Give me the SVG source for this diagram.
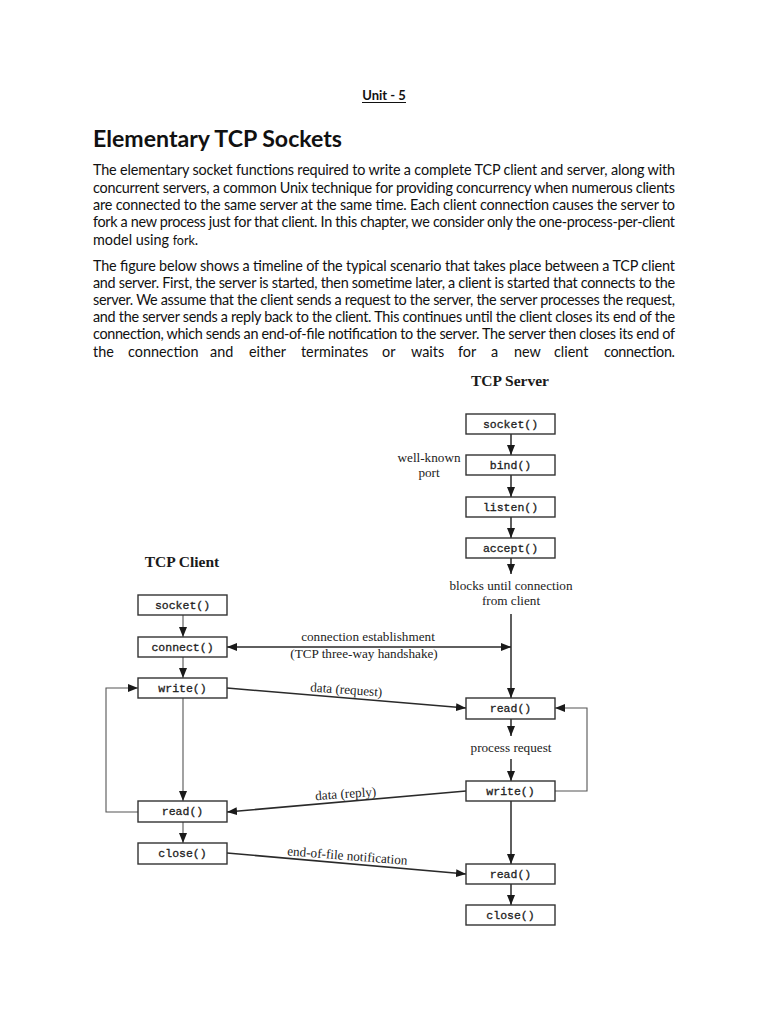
<svg xmlns="http://www.w3.org/2000/svg" width="768" height="1024" viewBox="0 0 768 1024">
<defs>
<style>
.body{font-family:Lato,"Liberation Sans",sans-serif;font-size:14.4px;fill:#111}
.box{fill:#fff;stroke:#333;stroke-width:1.4}
.mono{font-family:"Liberation Mono","DejaVu Sans Mono",monospace;font-size:11.5px;fill:#222;stroke:#222;stroke-width:0.3;text-anchor:middle}
.lbl{font-family:"Liberation Serif","DejaVu Serif",serif;font-size:13.2px;fill:#222;text-anchor:middle}
.ttl{font-family:"Liberation Serif","DejaVu Serif",serif;font-size:15.5px;font-weight:bold;fill:#1a1a1a;text-anchor:middle}
.c{fill:none;stroke:#2a2a2a;stroke-width:1.5}
.thin{fill:none;stroke:#555;stroke-width:1.1}
.arr{marker-end:url(#ah)}
</style>
<marker id="ah" viewBox="0 0 10 8" refX="10" refY="4" markerWidth="10" markerHeight="8" markerUnits="userSpaceOnUse" orient="auto-start-reverse">
<path d="M0,0 L10,4 L0,8 z" fill="#1a1a1a"/>
</marker>
</defs>
<rect width="768" height="1024" fill="#fff"/>

<g id="header">
<text x="384" y="100" text-anchor="middle" font-family="Lato,'Liberation Sans',sans-serif" font-size="13" font-weight="bold" fill="#111">Unit - 5</text>
<line x1="362" y1="102.5" x2="406" y2="102.5" stroke="#111" stroke-width="1"/>
<text x="93" y="147" font-family="Lato,'Liberation Sans',sans-serif" font-size="23" font-weight="bold" fill="#111" textLength="249" lengthAdjust="spacingAndGlyphs">Elementary TCP Sockets</text>
</g>

<g id="paragraph1" class="body">
<text x="93" y="175" textLength="582">The elementary socket functions required to write a complete TCP client and server, along with</text>
<text x="93" y="193" textLength="582">concurrent servers, a common Unix technique for providing concurrency when numerous clients</text>
<text x="93" y="210" textLength="582">are connected to the same server at the same time. Each client connection causes the server to</text>
<text x="93" y="227" textLength="582">fork a new process just for that client. In this chapter, we consider only the one-process-per-client</text>
<text x="93" y="245">model using <tspan font-size="12.5">fork</tspan>.</text>
</g>

<g id="paragraph2" class="body">
<text x="93" y="271" textLength="582">The figure below shows a timeline of the typical scenario that takes place between a TCP client</text>
<text x="93" y="288" textLength="582">and server. First, the server is started, then sometime later, a client is started that connects to the</text>
<text x="93" y="305" textLength="582">server. We assume that the client sends a request to the server, the server processes the request,</text>
<text x="93" y="322" textLength="582">and the server sends a reply back to the client. This continues until the client closes its end of the</text>
<text x="93" y="339" textLength="582">connection, which sends an end-of-file notification to the server. The server then closes its end of</text>
<text y="356.5"><tspan x="93">the</tspan><tspan x="128">connection</tspan><tspan x="210">and</tspan><tspan x="249">either</tspan><tspan x="301">terminates</tspan><tspan x="382">or</tspan><tspan x="411">waits</tspan><tspan x="458">for</tspan><tspan x="491">a</tspan><tspan x="514">new</tspan><tspan x="554">client</tspan><tspan x="604" textLength="71">connection.</tspan></text>
</g>

<g id="titles">
<text class="ttl" x="510" y="386">TCP Server</text>
<text class="ttl" x="182" y="567">TCP Client</text>
</g>

<g id="connectors">
<line class="c arr" x1="511" y1="434" x2="511" y2="455"/>
<line class="c arr" x1="511" y1="475" x2="511" y2="497"/>
<line class="c arr" x1="511" y1="517" x2="511" y2="538"/>
<line class="c arr" x1="511" y1="558" x2="511" y2="574"/>
<line class="c arr" x1="511" y1="614" x2="511" y2="698"/>
<line class="c arr" x1="227" y1="647" x2="511" y2="647" marker-start="url(#ah)"/>
<line class="c arr" x1="227" y1="688" x2="466" y2="708"/>
<line class="c arr" x1="511" y1="719" x2="511" y2="736"/>
<line class="c arr" x1="511" y1="759" x2="511" y2="781"/>
<path class="thin arr" d="M555,791 H587 V708 H555"/>
<line class="c arr" x1="466" y1="791" x2="227" y2="812"/>
<line class="c arr" x1="511" y1="801" x2="511" y2="864"/>
<line class="c arr" x1="511" y1="884" x2="511" y2="905"/>
<line class="thin arr" x1="183" y1="615" x2="183" y2="637"/>
<line class="thin arr" x1="183" y1="657" x2="183" y2="678"/>
<line class="thin arr" x1="183" y1="698" x2="183" y2="801"/>
<line class="thin arr" x1="183" y1="822" x2="183" y2="843"/>
<path class="thin arr" d="M138,812 H106 V688 H138"/>
<line class="c arr" x1="227" y1="853" x2="466" y2="874"/>
</g>

<g id="labels">
<text class="lbl" x="429" y="462">well-known</text>
<text class="lbl" x="429" y="477">port</text>
<text class="lbl" x="511" y="590">blocks until connection</text>
<text class="lbl" x="511" y="605">from client</text>
<text class="lbl" x="368" y="641">connection establishment</text>
<text class="lbl" x="364" y="658">(TCP three-way handshake)</text>
<text class="lbl" transform="translate(346,694) rotate(4)">data (request)</text>
<text class="lbl" x="511" y="752">process request</text>
<text class="lbl" transform="translate(346,798) rotate(-4)">data (reply)</text>
<text class="lbl" transform="translate(347,860) rotate(4.5)">end-of-file notification</text>
</g>

<g id="srv-socket"><rect class="box" x="466" y="414" width="89" height="20"/><text class="mono" x="510.5" y="428">socket()</text></g>
<g id="srv-bind"><rect class="box" x="466" y="455" width="89" height="20"/><text class="mono" x="510.5" y="469">bind()</text></g>
<g id="srv-listen"><rect class="box" x="466" y="497" width="89" height="20"/><text class="mono" x="510.5" y="511">listen()</text></g>
<g id="srv-accept"><rect class="box" x="466" y="538" width="89" height="20"/><text class="mono" x="510.5" y="552">accept()</text></g>
<g id="srv-read1"><rect class="box" x="466" y="698" width="89" height="21"/><text class="mono" x="510.5" y="712">read()</text></g>
<g id="srv-write"><rect class="box" x="466" y="781" width="89" height="20"/><text class="mono" x="510.5" y="795">write()</text></g>
<g id="srv-read2"><rect class="box" x="466" y="864" width="89" height="20"/><text class="mono" x="510.5" y="878">read()</text></g>
<g id="srv-close"><rect class="box" x="466" y="905" width="89" height="20"/><text class="mono" x="510.5" y="919">close()</text></g>

<g id="cli-socket"><rect class="box" x="138" y="595" width="89" height="20"/><text class="mono" x="182.5" y="609">socket()</text></g>
<g id="cli-connect"><rect class="box" x="138" y="637" width="89" height="20"/><text class="mono" x="182.5" y="651">connect()</text></g>
<g id="cli-write"><rect class="box" x="138" y="678" width="89" height="20"/><text class="mono" x="182.5" y="692">write()</text></g>
<g id="cli-read"><rect class="box" x="138" y="801" width="89" height="21"/><text class="mono" x="182.5" y="815">read()</text></g>
<g id="cli-close"><rect class="box" x="138" y="843" width="89" height="21"/><text class="mono" x="182.5" y="857">close()</text></g>
</svg>
